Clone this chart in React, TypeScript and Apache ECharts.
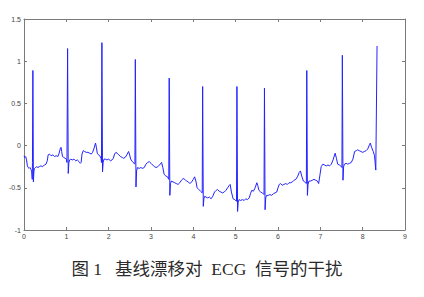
import React, { useEffect, useRef } from "react";
import * as echarts from "echarts";

// ECG samples [time (s), amplitude], beat by beat
const beat0: number[][] = [
  [0, -0.12], [0.02, -0.14], [0.04, -0.13], [0.06, -0.17], [0.08, -0.24], [0.1, -0.26], [0.12, -0.27],
  [0.14, -0.26], [0.16, -0.28], [0.18, -0.3], [0.195, -0.4], [0.2, -0.2], [0.21, 0.89], [0.222, -0.43],
  [0.235, -0.3], [0.25, -0.27],
];
const beat1: number[][] = [
  [0.27, -0.26], [0.3, -0.25], [0.33, -0.26], [0.36, -0.25], [0.4, -0.24], [0.44, -0.25], [0.48, -0.23],
  [0.52, -0.22], [0.55, -0.18], [0.57, -0.11], [0.6, -0.1], [0.64, -0.12], [0.68, -0.11], [0.72, -0.13],
  [0.76, -0.12], [0.8, -0.13], [0.83, -0.09], [0.86, -0.03], [0.875, -0.02], [0.89, -0.07], [0.91, -0.13],
  [0.94, -0.14], [0.97, -0.15], [1.0, -0.16], [1.015, -0.2], [1.03, 1.15], [1.045, -0.33], [1.06, -0.2],
  [1.08, -0.17],
];
const beat2: number[][] = [
  [1.1, -0.16], [1.14, -0.17], [1.18, -0.16], [1.22, -0.18], [1.26, -0.17], [1.3, -0.19], [1.33, -0.21],
  [1.35, -0.2], [1.37, -0.1], [1.4, -0.06], [1.43, -0.07], [1.47, -0.08], [1.51, -0.08], [1.55, -0.09],
  [1.59, -0.1], [1.62, -0.08], [1.65, -0.04], [1.69, 0.03], [1.71, -0.02], [1.73, -0.09], [1.76, -0.11],
  [1.79, -0.12], [1.82, -0.15], [1.83, -0.2], [1.84, 1.22], [1.855, -0.31], [1.87, -0.2], [1.89, -0.16],
];
const beat3: number[][] = [
  [1.92, -0.16], [1.96, -0.17], [2.0, -0.16], [2.04, -0.18], [2.08, -0.17], [2.11, -0.15], [2.14, -0.1],
  [2.17, -0.08], [2.2, -0.09], [2.24, -0.11], [2.28, -0.13], [2.32, -0.14], [2.35, -0.15], [2.39, -0.14],
  [2.43, -0.11], [2.47, -0.07], [2.49, -0.1], [2.52, -0.16], [2.56, -0.19], [2.6, -0.21], [2.62, -0.22],
  [2.63, 1.02], [2.645, -0.49], [2.66, -0.3], [2.68, -0.26],
];
const beat4: number[][] = [
  [2.72, -0.27], [2.76, -0.26], [2.8, -0.27], [2.84, -0.26], [2.88, -0.22], [2.92, -0.2], [2.96, -0.19],
  [3.0, -0.21], [3.04, -0.23], [3.08, -0.25], [3.12, -0.26], [3.16, -0.25], [3.2, -0.23], [3.25, -0.2],
  [3.28, -0.26], [3.31, -0.34], [3.35, -0.36], [3.39, -0.37], [3.42, -0.4], [3.43, 0.8], [3.445, -0.59],
  [3.46, -0.45], [3.48, -0.42],
];
const beat5: number[][] = [
  [3.52, -0.43], [3.56, -0.44], [3.6, -0.45], [3.64, -0.46], [3.68, -0.44], [3.72, -0.41], [3.76, -0.39],
  [3.8, -0.4], [3.84, -0.42], [3.88, -0.43], [3.92, -0.45], [3.96, -0.43], [4.0, -0.4], [4.03, -0.37],
  [4.06, -0.42], [4.09, -0.5], [4.13, -0.52], [4.17, -0.54], [4.21, -0.56], [4.22, 0.7], [4.235, -0.72],
  [4.25, -0.63], [4.27, -0.6],
];
const beat6: number[][] = [
  [4.3, -0.61], [4.34, -0.62], [4.38, -0.61], [4.42, -0.63], [4.46, -0.6], [4.5, -0.55], [4.54, -0.53],
  [4.57, -0.52], [4.61, -0.54], [4.65, -0.55], [4.69, -0.56], [4.73, -0.55], [4.77, -0.53], [4.81, -0.5],
  [4.85, -0.47], [4.87, -0.46], [4.9, -0.55], [4.94, -0.63], [4.98, -0.64], [5.02, -0.66], [5.03, 0.7],
  [5.045, -0.78], [5.06, -0.67], [5.08, -0.64],
];
const beat7: number[][] = [
  [5.12, -0.65], [5.16, -0.64], [5.2, -0.65], [5.24, -0.63], [5.28, -0.64], [5.32, -0.62], [5.35, -0.57],
  [5.38, -0.53], [5.42, -0.54], [5.46, -0.5], [5.5, -0.44], [5.52, -0.47], [5.55, -0.53], [5.59, -0.55],
  [5.63, -0.56], [5.67, -0.58], [5.68, 0.68], [5.695, -0.76], [5.71, -0.62], [5.73, -0.59],
];
const beat8: number[][] = [
  [5.77, -0.59], [5.81, -0.58], [5.85, -0.59], [5.89, -0.57], [5.93, -0.56], [5.97, -0.55], [6.0, -0.5],
  [6.03, -0.46], [6.06, -0.45], [6.1, -0.47], [6.14, -0.46], [6.18, -0.45], [6.22, -0.46], [6.26, -0.44],
  [6.3, -0.44], [6.34, -0.43], [6.38, -0.41], [6.42, -0.4], [6.46, -0.37], [6.5, -0.32], [6.53, -0.3],
  [6.56, -0.36], [6.6, -0.42], [6.63, -0.43], [6.67, -0.45], [6.68, 0.89], [6.695, -0.59], [6.71, -0.46],
  [6.73, -0.42],
];
const beat9: number[][] = [
  [6.77, -0.42], [6.81, -0.41], [6.85, -0.4], [6.89, -0.41], [6.93, -0.42], [6.96, -0.45], [6.99, -0.35],
  [7.02, -0.25], [7.06, -0.22], [7.1, -0.23], [7.14, -0.24], [7.18, -0.23], [7.22, -0.24], [7.26, -0.22],
  [7.3, -0.17], [7.35, -0.09], [7.38, -0.15], [7.41, -0.22], [7.45, -0.23], [7.48, -0.24], [7.51, -0.26],
  [7.52, 1.07], [7.535, -0.41], [7.55, -0.25], [7.57, -0.22],
];
const beat10: number[][] = [
  [7.61, -0.21], [7.65, -0.22], [7.69, -0.21], [7.73, -0.2], [7.77, -0.16], [7.81, -0.07], [7.85, -0.06],
  [7.88, -0.05], [7.92, -0.06], [7.96, -0.07], [8.0, -0.08], [8.04, -0.07], [8.08, -0.06], [8.12, -0.04],
  [8.16, 0.01], [8.18, 0.03], [8.21, -0.02], [8.25, -0.07], [8.28, -0.12], [8.31, -0.29], [8.34, 1.18],
];

const xTicks = { min: 0, max: 9, interval: 1 };
const yTicks = { min: -1, max: 1.5, interval: 0.5 };
const caption = "图\u00a01\u2002\u00a0基线漂移对\u2002ECG\u2002信号的干扰";

export default function App() {
  const ref = useRef<HTMLDivElement>(null);
  useEffect(() => {
    if (!ref.current) return;
    const chart = echarts.init(ref.current, null, { renderer: "svg" });
    const signal = [...beat0, ...beat1, ...beat2, ...beat3, ...beat4, ...beat5, ...beat6, ...beat7, ...beat8, ...beat9, ...beat10];
    const axisLine = { show: true, onZero: false, lineStyle: { color: "#7a7a7a", width: 1 } };
    const tick = { show: true, inside: true, length: 3, lineStyle: { color: "#7a7a7a" } };
    const label = { color: "#444", fontSize: 7, fontFamily: "Liberation Sans, Arial, sans-serif", margin: 3 };
    chart.setOption({
      animation: false,
      backgroundColor: "#ffffff",
      grid: { left: 24, right: 19, top: 19, bottom: 67 },
      xAxis: [
        { type: "value", position: "bottom", ...xTicks, axisLine, axisTick: tick, axisLabel: label, splitLine: { show: false } },
        { type: "value", position: "top", ...xTicks, axisLine, axisTick: tick, axisLabel: { show: false }, splitLine: { show: false } },
      ],
      yAxis: [
        { type: "value", position: "left", ...yTicks, axisLine, axisTick: tick, axisLabel: label, splitLine: { show: false } },
        { type: "value", position: "right", ...yTicks, axisLine, axisTick: tick, axisLabel: { show: false }, splitLine: { show: false } },
      ],
      series: [
        {
          type: "line",
          data: signal,
          showSymbol: false,
          lineStyle: { color: "#2222ff", width: 1 },
          xAxisIndex: 0,
          yAxisIndex: 0,
        },
      ],
      graphic: [
        {
          type: "text",
          x: 207,
          y: 269,
          style: {
            text: caption,
            fontSize: 17.5,
            fontFamily: "'Liberation Serif', 'Noto Sans CJK SC', serif",
            fill: "#2a2a2a",
            textAlign: "center",
            textVerticalAlign: "middle",
          },
        },
      ],
    });
    return () => chart.dispose();
  }, []);
  return <div ref={ref} style={{ position: "fixed", left: 0, top: 0, width: 424, height: 297 }} />;
}
